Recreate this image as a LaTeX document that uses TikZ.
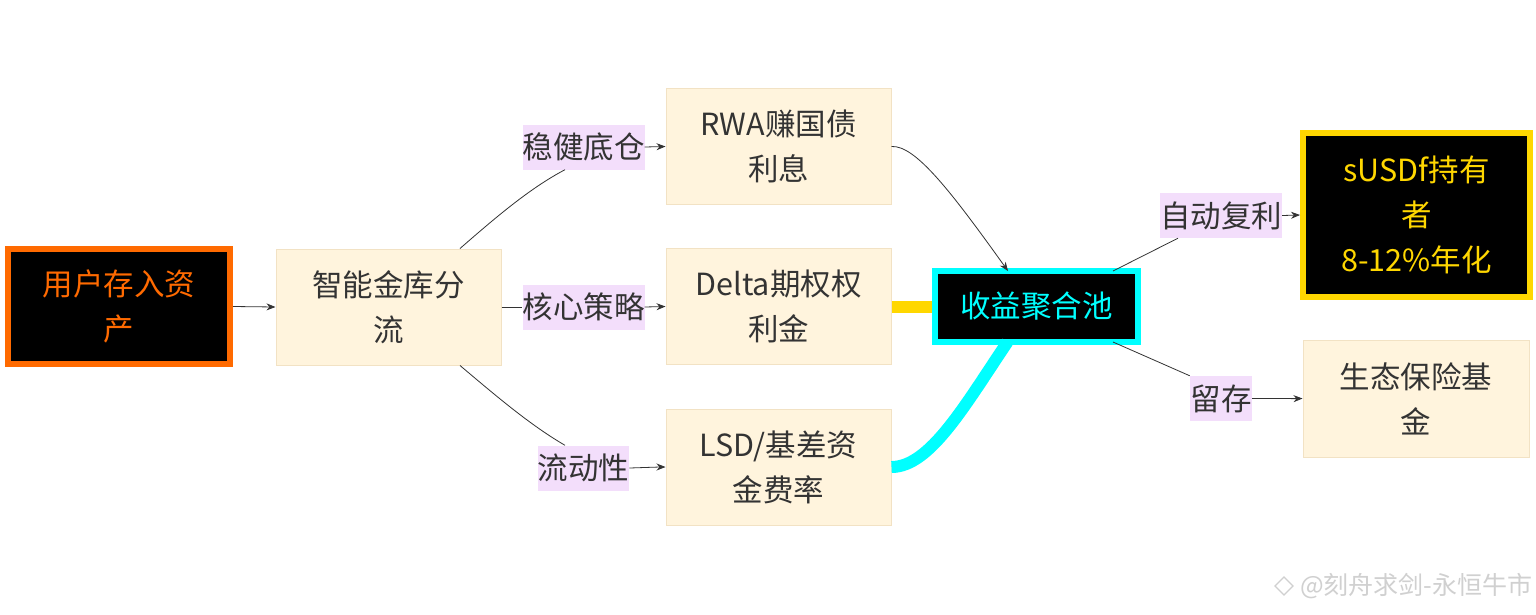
\documentclass[tikz,border=0pt]{standalone}
\usepackage{fontspec}
\newfontfamily\cjk{Noto Sans CJK SC}
\usetikzlibrary{arrows.meta,calc}
\definecolor{cream}{HTML}{FFF4DD}
\definecolor{creamline}{HTML}{F2E2C4}
\definecolor{lab}{HTML}{F3DEFB}
\definecolor{txt}{HTML}{333333}
\definecolor{orng}{HTML}{FF6A00}
\definecolor{cyn}{HTML}{00FFFF}
\definecolor{ylw}{HTML}{FFD700}
\definecolor{wm}{HTML}{D0D0D0}
\tikzset{
  base/.style={font=\cjk\fontsize{30.5}{45}\selectfont, align=center, inner sep=0pt},
  cbox/.style={base, fill=cream, draw=creamline, line width=1pt, text=txt, minimum width=225pt, minimum height=116pt},
  dbox/.style={base, fill=black, line width=6pt},
  lbl/.style={base, fill=lab, text=txt, minimum height=45pt},
  conn/.style={draw=txt, line width=0.8pt},
  arr/.style={conn, -{Stealth[length=9pt,width=7pt]}},
}
\begin{document}
\begin{tikzpicture}[x=1pt,y=-1pt]
\useasboundingbox (0,0) rectangle (1536,614);
\fill[white] (0,0) rectangle (1536,614);

\node[dbox, draw=orng, text=orng, minimum width=222pt, minimum height=115pt] (user) at (119,306.5) {用户存入资\\产};
\node[cbox] (zn) at (388.5,307) {智能金库分\\流};
\node[cbox] (rwa) at (778.5,146.5) {RWA赚国债\\利息};
\node[cbox] (delta) at (778.5,306.5) {Delta期权权\\利金};
\node[cbox] (lsd) at (778.5,467) {LSD/基差资\\金费率};
\node[dbox, draw=cyn, text=cyn, minimum width=203pt, minimum height=71pt] (pool) at (1036.5,306.5) {收益聚合池};
\node[dbox, draw=ylw, text=ylw, minimum width=227pt, minimum height=164pt] (susd) at (1416.5,215) {sUSDf持有\\者\\8-12\%年化};
\node[cbox, minimum width=226pt, minimum height=117pt] (eco) at (1416,398.5) {生态保险基\\金};

\node[lbl, minimum width=122pt] (l1) at (583.5,147) {稳健底仓};
\node[lbl, minimum width=122pt] (l2) at (583.5,307) {核心策略};
\node[lbl, minimum width=91pt] (l3) at (583.5,468) {流动性};
\node[lbl, minimum width=122pt] (l4) at (1221,215.5) {自动复利};
\node[lbl, minimum width=62pt] (l5) at (1221,398.5) {留存};

% connectors
\draw[arr] (user.east) -- (zn.west);
\draw[conn] ([xshift=71.5pt]zn.north) .. controls (495,218) and (530,188) .. ([xshift=-18.5pt]l1.south);
\draw[arr] (l1.east) -- (rwa.west);
\draw[conn] (zn.east) -- (l2.west);
\draw[arr] (l2.east) -- (delta.west);
\draw[conn] ([xshift=71.5pt]zn.south) .. controls (495,395) and (530,425) .. ([xshift=-18.5pt]l3.north);
\draw[arr] (l3.east) .. controls (645,467) .. (lsd.west);

\draw[arr] (rwa.east) .. controls (915,145) and (950,190) .. ([xshift=-28.5pt,yshift=-3pt]pool.north);
\draw[ylw, line width=12pt] (delta.east) -- (pool.west);
\draw[cyn, line width=12pt] (lsd.east) .. controls (930,467) and (965,405) .. ([xshift=-29pt,yshift=3pt]pool.south);

\draw[conn] ([xshift=76.5pt,yshift=-3pt]pool.north) -- ([xshift=-43pt]l4.south);
\draw[arr] (l4.east) -- (susd.west);
\draw[conn] ([xshift=76.5pt,yshift=3pt]pool.south) -- (l5.north west);
\draw[arr] (l5.east) .. controls (1275,399) .. (eco.west);

% watermark
\node[font=\cjk\fontsize{25}{25}\selectfont, text=wm, inner sep=0pt, anchor=west] (wmark) at (1300,586) {@刻舟求剑-永恒牛市};
\draw[wm, line width=1.3pt] (1284,577) -- (1293,586) -- (1284,595) -- (1275,586) -- cycle;
\end{tikzpicture}
\end{document}
